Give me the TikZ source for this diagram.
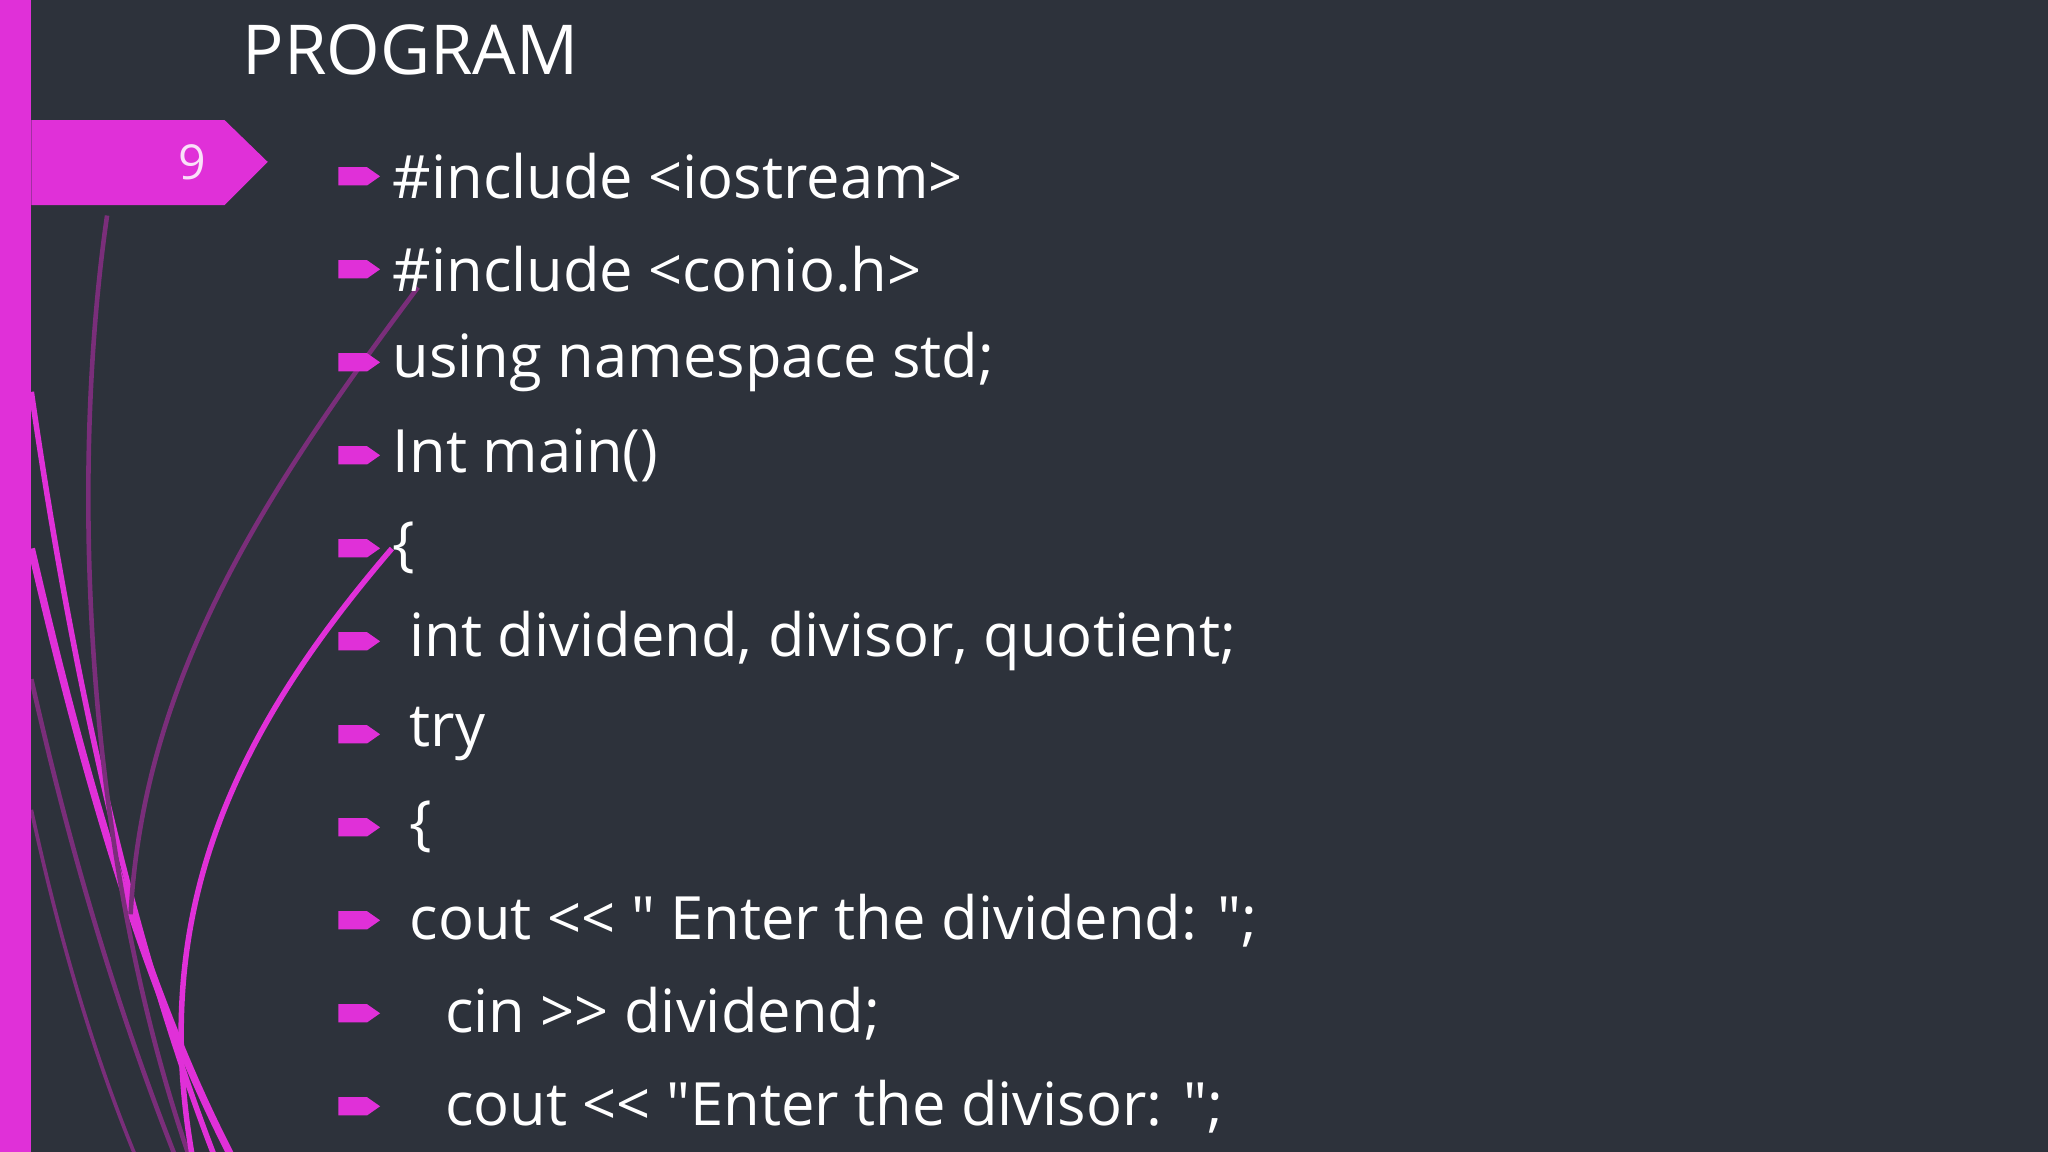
\documentclass[tikz,border=0pt]{standalone}
\usepackage{fontspec}
\setmainfont[Ligatures=TeXOff]{Open Sans}
\definecolor{bg}{HTML}{2D323B}
\definecolor{mag}{HTML}{E030D8}
\definecolor{dmag}{HTML}{7A2E7A}
\begin{document}
\begin{tikzpicture}[x=0.1mm,y=-0.1mm,
  code/.style={anchor=west,text=white,inner sep=0pt,font=\fontsize{13}{16}\selectfont},
  bul/.style={fill=mag,draw=none}]
\useasboundingbox (0,0) rectangle (1568,882);
\fill[bg] (0,0) rectangle (1568,882);
% decorative curves
\begin{scope}
\clip (0,0) rectangle (1568,882);
\draw[mag,line width=1.2pt] (24,300) .. controls (60,550) and (110,750) .. (170,900);
\draw[mag,line width=1.6pt] (24,420) .. controls (70,620) and (120,780) .. (185,900);
\draw[dmag,line width=1pt] (24,520) .. controls (60,680) and (100,800) .. (140,900);
\draw[dmag,line width=1pt] (82,165) .. controls (55,350) and (60,650) .. (150,900);
\draw[mag,line width=1.2pt] (300,420) .. controls (180,560) and (110,700) .. (150,900);
\draw[dmag,line width=1pt] (320,220) .. controls (200,380) and (110,520) .. (100,700);
\draw[dmag,line width=0.8pt] (24,620) .. controls (50,740) and (80,830) .. (110,900);
\end{scope}
\fill[mag] (0,0) rectangle (24,882);
\fill[mag] (24,92) -- (172,92) -- (205,124) -- (172,157) -- (24,157) -- cycle;
\node[text=white!85!mag,font=\fontsize{10.5}{12}\selectfont] (num) at (147,124) {9};
\node[anchor=west,text=white,inner sep=0pt,font=\fontsize{15}{18}\selectfont] (title) at (185,38) {PROGRAM};
\foreach \i/\x/\t in {0/300/{\#include <iostream>},1/300/{\#include <conio.h>},2/300/{using namespace std;},3/300/{Int main()},4/300/{\{},5/313/{int dividend, divisor, quotient;},6/313/{try},7/313/{\{},8/313/{cout << " Enter the dividend: ";},9/340/{cin >> dividend;},10/340/{cout << "Enter the divisor: ";}}{
  \pgfmathsetmacro{\yy}{135+71.2*\i}
  \fill[mag] (259,\yy-7) -- (281,\yy-7) -- (291,\yy) -- (281,\yy+7) -- (259,\yy+7) -- cycle;
  \node[code] (l\i) at (\x,\yy) {\t};
}
\end{tikzpicture}
\end{document}
